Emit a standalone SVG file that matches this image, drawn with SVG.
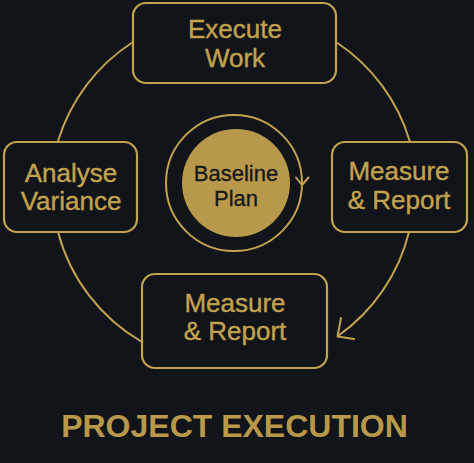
<svg xmlns="http://www.w3.org/2000/svg" width="474" height="463" viewBox="0 0 474 463">
  <style>
    .box { fill: #111418; stroke: #c2a24f; stroke-width: 2.2; }
    .lbl { font-family: "Liberation Sans", Arial, sans-serif; font-size: 26px; fill: #c2a24f; stroke: #c2a24f; stroke-width: 0.4; text-anchor: middle; }
    .conn { fill: none; stroke: #c2a24f; stroke-width: 2; stroke-linecap: round; stroke-linejoin: round; }
    .inner { font-family: "Liberation Sans", Arial, sans-serif; font-size: 22px; fill: #15171b; stroke: #15171b; stroke-width: 0.3; text-anchor: middle; }
  </style>
  <rect width="474" height="463" fill="#111418"/>
  <g id="connectors">
    <path class="conn" d="M58,141 A180,180 0 0 1 133,42"/>
    <path class="conn" d="M336,42 A180,180 0 0 1 410,142"/>
    <path class="conn" d="M409,232 A180,180 0 0 1 338,336"/>
    <polyline class="conn" points="341,318 337.5,336.5 354,339"/>
    <path class="conn" d="M58,232 A180,180 0 0 0 142,342"/>
  </g>
  <g id="execute-work">
    <rect class="box" x="133" y="3" width="203" height="80" rx="13"/>
    <text class="lbl" x="235" y="37.5">Execute</text>
    <text class="lbl" x="235" y="66.5">Work</text>
  </g>
  <g id="analyse-variance">
    <rect class="box" x="4" y="142" width="133" height="90" rx="13"/>
    <text class="lbl" x="71" y="181.5">Analyse</text>
    <text class="lbl" x="71" y="209.5">Variance</text>
  </g>
  <g id="measure-report-right">
    <rect class="box" x="332" y="142" width="135" height="90" rx="13"/>
    <text class="lbl" x="399" y="180">Measure</text>
    <text class="lbl" x="399" y="208.5">&amp; Report</text>
  </g>
  <g id="measure-report-bottom">
    <rect class="box" x="142" y="274" width="185" height="94" rx="13"/>
    <text class="lbl" x="235" y="311.5">Measure</text>
    <text class="lbl" x="235" y="340">&amp; Report</text>
  </g>
  <g id="baseline-plan">
    <circle cx="234" cy="183" r="68" fill="none" stroke="#c2a24f" stroke-width="2"/>
    <polyline points="296,177.5 302,185 308.5,177.5" fill="none" stroke="#c2a24f" stroke-width="2" stroke-linecap="round" stroke-linejoin="round"/>
    <circle cx="236" cy="183" r="54" fill="#b8984a"/>
    <text class="inner" x="236" y="181">Baseline</text>
    <text class="inner" x="236" y="206">Plan</text>
  </g>
  <text id="title" x="234.5" y="437" font-family="Liberation Sans, Arial, sans-serif" font-size="32" font-weight="bold" fill="#b8984a" text-anchor="middle">PROJECT EXECUTION</text>
</svg>
